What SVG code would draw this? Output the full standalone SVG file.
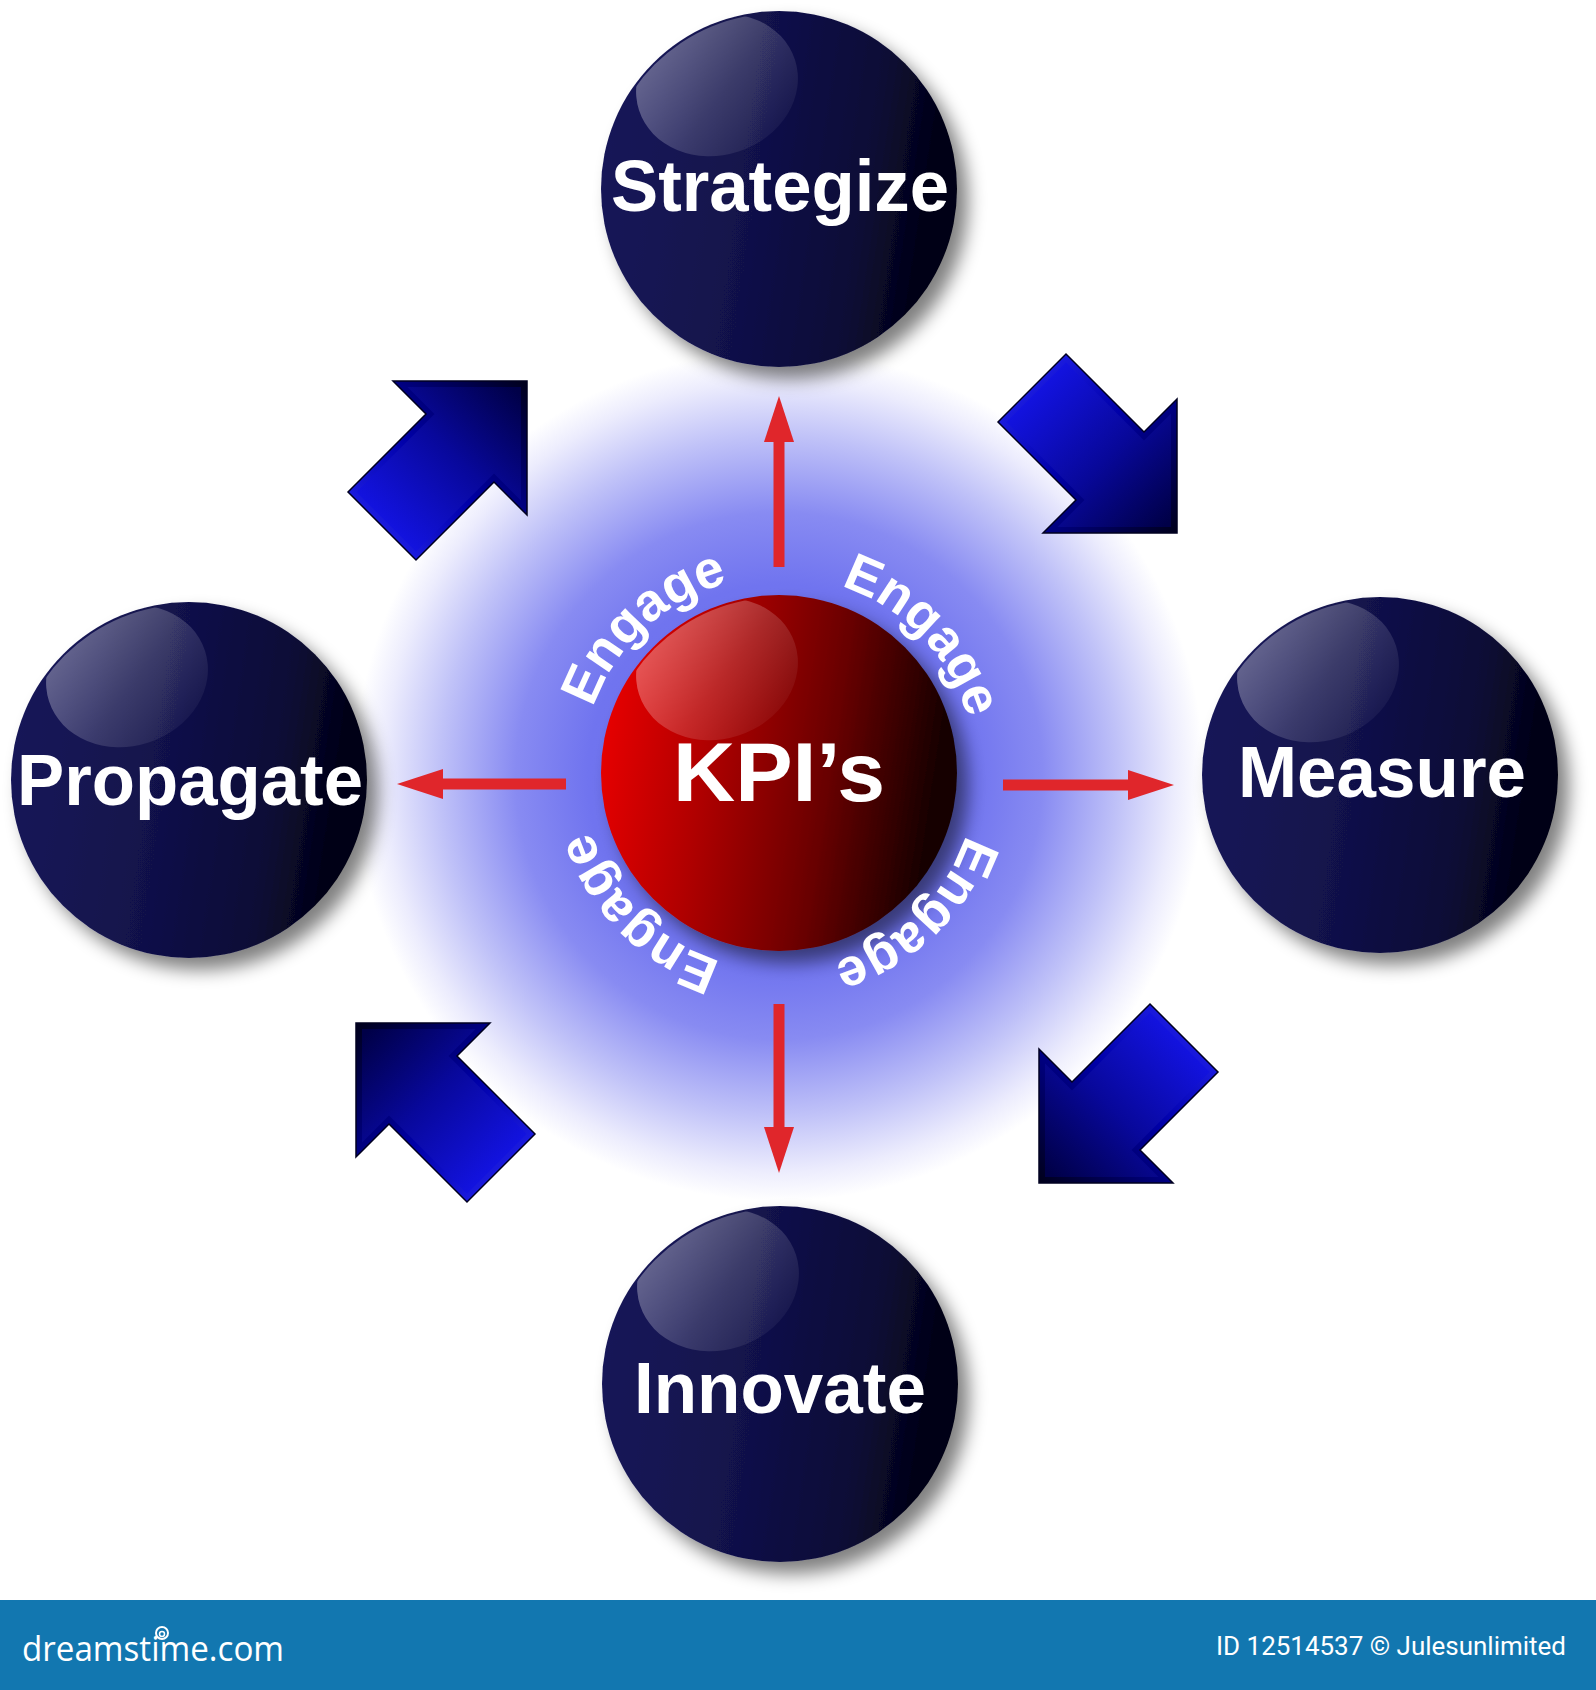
<svg xmlns="http://www.w3.org/2000/svg" xmlns:xlink="http://www.w3.org/1999/xlink" width="1596" height="1690" viewBox="0 0 1596 1690">
  <style>
    .label { font-family: "Liberation Sans", Arial, sans-serif; font-weight: bold; font-size: 72px; fill: #ffffff; text-anchor: middle; }
    .kpi { font-size: 84px; }
    .engage { font-family: "Liberation Sans", Arial, sans-serif; font-weight: bold; font-size: 53px; fill: #ffffff; }
    .redline { stroke: #e0262b; stroke-width: 11; fill: none; }
    .footer-logo { font-family: "Open Sans", "DejaVu Sans", sans-serif; font-size: 34px; fill: #ffffff; }
    .footer-id { font-family: Roboto, "Liberation Sans", sans-serif; font-weight: 400; font-size: 25px; fill: #ffffff; }
  </style>
  <defs>
    <radialGradient id="glow" cx="779" cy="776" r="425" gradientUnits="userSpaceOnUse">
      <stop offset="0" stop-color="#6a6dee"/>
      <stop offset="0.45" stop-color="#7074ef"/>
      <stop offset="0.62" stop-color="#888bf2"/>
      <stop offset="0.8" stop-color="#c0c2f8"/>
      <stop offset="0.93" stop-color="#ececfd"/>
      <stop offset="1" stop-color="#ffffff"/>
    </radialGradient>
    <linearGradient id="navy" x1="0" y1="0" x2="1" y2="0.15">
      <stop offset="0" stop-color="#1a1a5a"/>
      <stop offset="0.45" stop-color="#12124c"/>
      <stop offset="0.8" stop-color="#0b0b36"/>
      <stop offset="1" stop-color="#020212"/>
    </linearGradient>
    <linearGradient id="red" x1="0" y1="0" x2="1" y2="0.15">
      <stop offset="0" stop-color="#f20000"/>
      <stop offset="0.35" stop-color="#b00000"/>
      <stop offset="0.7" stop-color="#680000"/>
      <stop offset="1" stop-color="#160000"/>
    </linearGradient>
    <linearGradient id="glossGrad" x1="0" y1="0" x2="0.8" y2="1">
      <stop offset="0" stop-color="#ffffff" stop-opacity="0.42"/>
      <stop offset="0.6" stop-color="#ffffff" stop-opacity="0.16"/>
      <stop offset="1" stop-color="#ffffff" stop-opacity="0.03"/>
    </linearGradient>
    <linearGradient id="arrowBevel" x1="-179" y1="179" x2="0" y2="0" gradientUnits="userSpaceOnUse">
      <stop offset="0" stop-color="#2a2aff"/>
      <stop offset="0.5" stop-color="#0000a8"/>
      <stop offset="1" stop-color="#00001a"/>
    </linearGradient>
    <linearGradient id="arrowFill" x1="-150" y1="150" x2="-10" y2="10" gradientUnits="userSpaceOnUse">
      <stop offset="0" stop-color="#1414e8"/>
      <stop offset="0.55" stop-color="#08089a"/>
      <stop offset="1" stop-color="#000048"/>
    </linearGradient>
    <filter id="shadow" x="-25%" y="-25%" width="160%" height="160%">
      <feGaussianBlur in="SourceAlpha" stdDeviation="9"/>
      <feOffset dx="11" dy="12" result="b"/>
      <feComponentTransfer><feFuncA type="linear" slope="0.5"/></feComponentTransfer>
      <feMerge><feMergeNode/><feMergeNode in="SourceGraphic"/></feMerge>
    </filter>
    <clipPath id="ballClip"><circle cx="0" cy="0" r="176"/></clipPath>
    <g id="gloss" clip-path="url(#ballClip)">
      <ellipse cx="-62" cy="-104" rx="82" ry="70" transform="rotate(-18 -62 -104)" fill="url(#glossGrad)"/>
    </g>
    <g id="blockArrow">
      <polygon points="0,0 -134,0 -101,33 -179,111 -111,179 -33,101 0,134" fill="url(#arrowBevel)" stroke="#000020" stroke-width="1.5"/>
      <polygon points="-6,6 -119.5,6 -92.5,33 -170.5,111 -111,170.5 -33,92.5 -6,119.5" fill="url(#arrowFill)"/>
    </g>
    <marker id="redHead" markerUnits="userSpaceOnUse" markerWidth="47" markerHeight="32" refX="0" refY="16" orient="auto">
      <path d="M0,1 L46,16 L0,31 Z" fill="#e0262b"/>
    </marker>
    <path id="engageRing" d="M976,773 A197,197 0 1,1 582,773 A197,197 0 1,1 976,773"/>
  </defs>

  <rect x="0" y="0" width="1596" height="1690" fill="#ffffff"/>
  <circle id="glow-halo" cx="779" cy="776" r="425" fill="url(#glow)"/>

  <g id="connectors">
    <use xlink:href="#blockArrow" href="#blockArrow" transform="translate(527,381)"/>
    <use xlink:href="#blockArrow" href="#blockArrow" transform="translate(1177,533) rotate(90)"/>
    <use xlink:href="#blockArrow" href="#blockArrow" transform="translate(1039,1183) rotate(180)"/>
    <use xlink:href="#blockArrow" href="#blockArrow" transform="translate(356,1023) rotate(270)"/>
    <line class="redline" x1="779" y1="567" x2="779" y2="442" marker-end="url(#redHead)"/>
    <line class="redline" x1="779" y1="1004" x2="779" y2="1127" marker-end="url(#redHead)"/>
    <line class="redline" x1="566" y1="784" x2="443" y2="784" marker-end="url(#redHead)"/>
    <line class="redline" x1="1003" y1="785" x2="1128" y2="785" marker-end="url(#redHead)"/>
  </g>

  <g id="node-kpis">
    <circle cx="779" cy="773" r="178" fill="url(#red)" filter="url(#shadow)"/>
    <use xlink:href="#gloss" href="#gloss" x="779" y="773"/>
    <text class="label kpi" x="779" y="801" textLength="212" lengthAdjust="spacingAndGlyphs">KPI’s</text>
    <text class="engage" text-anchor="middle"><textPath xlink:href="#engageRing" href="#engageRing" startOffset="12.8%">Engage</textPath></text>
    <text class="engage" text-anchor="middle"><textPath xlink:href="#engageRing" href="#engageRing" startOffset="37.5%">Engage</textPath></text>
    <text class="engage" text-anchor="middle"><textPath xlink:href="#engageRing" href="#engageRing" startOffset="63.1%">Engage</textPath></text>
    <text class="engage" text-anchor="middle"><textPath xlink:href="#engageRing" href="#engageRing" startOffset="87.8%">Engage</textPath></text>
  </g>

  <g id="node-strategize">
    <circle cx="779" cy="189" r="178" fill="url(#navy)" filter="url(#shadow)"/>
    <use xlink:href="#gloss" href="#gloss" x="779" y="189"/>
    <text class="label" x="780" y="211" textLength="338" lengthAdjust="spacingAndGlyphs">Strategize</text>
  </g>

  <g id="node-measure">
    <circle cx="1380" cy="775" r="178" fill="url(#navy)" filter="url(#shadow)"/>
    <use xlink:href="#gloss" href="#gloss" x="1380" y="775"/>
    <text class="label" x="1382" y="797" textLength="288" lengthAdjust="spacingAndGlyphs">Measure</text>
  </g>

  <g id="node-innovate">
    <circle cx="780" cy="1384" r="178" fill="url(#navy)" filter="url(#shadow)"/>
    <use xlink:href="#gloss" href="#gloss" x="780" y="1384"/>
    <text class="label" x="780" y="1413" textLength="292" lengthAdjust="spacingAndGlyphs">Innovate</text>
  </g>

  <g id="node-propagate">
    <circle cx="189" cy="780" r="178" fill="url(#navy)" filter="url(#shadow)"/>
    <use xlink:href="#gloss" href="#gloss" x="189" y="780"/>
    <text class="label" x="190" y="805" textLength="346" lengthAdjust="spacingAndGlyphs">Propagate</text>
  </g>

  <g id="footer">
    <rect x="0" y="1600" width="1596" height="90" fill="#1277b0"/>
    <text class="footer-logo" x="22" y="1661" textLength="262" lengthAdjust="spacingAndGlyphs">dreamstime.com</text>
    <circle cx="162" cy="1633" r="6" fill="none" stroke="#ffffff" stroke-width="2"/>
    <circle cx="162" cy="1634" r="2.5" fill="none" stroke="#ffffff" stroke-width="1.5"/>
    <text class="footer-id" x="1216" y="1655" textLength="350" lengthAdjust="spacingAndGlyphs">ID 12514537 © Julesunlimited</text>
  </g>
</svg>
